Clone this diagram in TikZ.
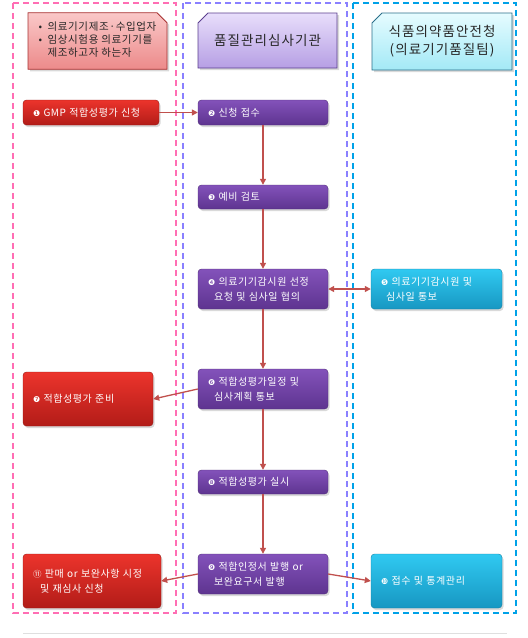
\documentclass[tikz,border=0pt]{standalone}
\usepackage{fontspec}
\setmainfont{Noto Sans CJK KR}
\newfontfamily\krsp[LetterSpace=6]{Noto Sans CJK KR}
\newfontfamily\krhd[LetterSpace=8]{Noto Sans CJK KR}
\newfontfamily\dvfont{DejaVu Sans}
\usetikzlibrary{arrows.meta,shadows,shapes.misc}
\definecolor{rtop}{HTML}{EC342C}
\definecolor{rbot}{HTML}{B21C18}
\definecolor{ptop}{HTML}{8352BA}
\definecolor{pbot}{HTML}{5E3490}
\definecolor{ctop}{HTML}{30C9F1}
\definecolor{cbot}{HTML}{1797C2}
\definecolor{arrc}{HTML}{C0504D}
\definecolor{lanepk}{HTML}{FF6EB4}
\definecolor{lanepu}{HTML}{8A80FF}
\definecolor{lanecy}{HTML}{00A2E8}
\definecolor{hpk1}{HTML}{FAC8C8}
\definecolor{hpk2}{HTML}{EC8A8A}
\definecolor{hpkd}{HTML}{A83232}
\definecolor{hpu1}{HTML}{E8DEFB}
\definecolor{hpu2}{HTML}{B69FE4}
\definecolor{hpud}{HTML}{5B3F8F}
\definecolor{hcy1}{HTML}{E6FCFF}
\definecolor{hcy2}{HTML}{A3E9F6}
\definecolor{hcyd}{HTML}{2A6F8A}
\newcommand{\cnum}[1]{{\dvfont\fontsize{8}{8}\selectfont #1}}
\begin{document}
\begin{tikzpicture}[x=1pt,y=-1pt,
  lane/.style={dash pattern=on 6pt off 4pt, line width=1.3pt},
  hdr/.style={chamfered rectangle, chamfered rectangle xsep=5pt, chamfered rectangle ysep=5pt,
    line width=0.8pt, text=black!85,
    drop shadow={opacity=.3, shadow xshift=2pt, shadow yshift=-2pt}},
  pbox/.style={rectangle, rounded corners=3.5pt, inner xsep=10pt, inner ysep=0pt,
    align=left, text=white, font=\krsp\fontsize{10}{15}\selectfont, line width=.4pt,
    drop shadow={opacity=.3, shadow xshift=1.5pt, shadow yshift=-2pt}},
  redbox/.style={pbox, top color=rtop, bottom color=rbot, draw=rbot!85!black},
  purbox/.style={pbox, top color=ptop, bottom color=pbot, draw=pbot!85!black},
  cyabox/.style={pbox, top color=ctop, bottom color=cbot, draw=cbot!85!black},
  arr/.style={draw=arrc, line width=1.3pt, -{Triangle[length=6pt,width=6pt]}},
  darr/.style={draw=arrc, line width=1.3pt, {Triangle[length=6pt,width=6pt]}-{Triangle[length=6pt,width=6pt]}}
]
\useasboundingbox (0,0) rectangle (528,638);
% lanes
\draw[lane, lanepk] (13,3) rectangle (176,613);
\draw[lane, lanepu] (183,3) rectangle (347,613);
\draw[lane, lanecy] (353,3) rectangle (516,613);
\draw[gray!25, line width=1pt] (23,633) -- (507,633);

% headers
\node[hdr, chamfered rectangle corners=north east, top color=hpk1, bottom color=hpk2, draw=hpkd,
  minimum width=139pt, minimum height=54pt, align=left, font=\krsp\fontsize{10.5}{13.3}\selectfont]
  (h1) at (97.5,41) {\raisebox{-4pt}{\begin{tabular}{@{}l@{}l@{}}\makebox[9pt][l]{•}&의료기기제조·수입업자\\
  \makebox[9pt][l]{•}&임상시험용 의료기기를\\ &제조하고자 하는자\end{tabular}}};
\node[hdr, chamfered rectangle corners=north west, top color=hpu1, bottom color=hpu2, draw=hpud,
  minimum width=139pt, minimum height=55pt, font=\krhd\fontsize{13.5}{16}\selectfont]
  (h2) at (267.5,40.5) {\raisebox{-5pt}{품질관리심사기관}};
\node[hdr, chamfered rectangle corners=north west, top color=hcy1, bottom color=hcy2, draw=hcyd,
  minimum width=140pt, minimum height=57pt, align=center, font=\krhd\fontsize{13.5}{18}\selectfont]
  (h3) at (442,41.5) {식품의약품안전청\\(의료기기품질팀)};

% process boxes
\node[redbox, text width=116pt, minimum height=25pt] (n1) at (91,112.5) {\cnum{❶} GMP 적합성평가 신청};
\node[purbox, text width=110pt, minimum height=25pt] (n2) at (263,112.5) {\cnum{❷} 신청 접수};
\node[purbox, text width=110pt, minimum height=24pt] (n3) at (263,197) {\cnum{❸} 예비 검토};
\node[purbox, text width=110pt, minimum height=40pt] (n4) at (263,289) {\mbox{\cnum{❹} 의료기기감시원 선정}\\\hspace*{6pt}요청 및 심사일 협의};
\node[cyabox, text width=111pt, minimum height=40pt] (n5) at (436.5,289) {\mbox{\cnum{❺} 의료기기감시원 및}\\\hspace*{5pt}심사일 통보};
\node[purbox, text width=110pt, minimum height=40pt] (n6) at (263,389) {\mbox{\cnum{❻} 적합성평가일정 및}\\\hspace*{6pt}심사계획 통보};
\node[redbox, text width=110pt, minimum height=54pt] (n7) at (88,399) {\cnum{❼} 적합성평가 준비};
\node[purbox, text width=110pt, minimum height=24pt] (n8) at (263,482) {\cnum{❽} 적합성평가 실시};
\node[purbox, text width=110pt, minimum height=40pt] (n9) at (263,574) {\mbox{\cnum{❾} 적합인정서 발행 or}\\\hspace*{6pt}보완요구서 발행};
\node[cyabox, text width=111pt, minimum height=54pt] (n10) at (436.5,581) {\cnum{❿} 접수 및 통계관리};
\node[redbox, text width=118pt, minimum height=54pt] (n11) at (92,581) {\mbox{{\fontsize{8.5}{8}\selectfont ⑪} 판매 or 보완사항 시정}\\\hspace*{7pt}및 재심사 신청};

% connectors
\draw[arr] (n1) -- (n2);
\draw[arr] (n2) -- (n3);
\draw[arr] (n3) -- (n4);
\draw[darr] (n4) -- (n5);
\draw[arr] (n4) -- (n6);
\draw[arr] (n6.west) -- (n7.east);
\draw[arr] (n6) -- (n8);
\draw[arr] (n8) -- (n9);
\draw[arr] (n9.west) -- (n11.east);
\draw[arr] (n9.east) -- (n10.west);
\end{tikzpicture}
\end{document}
